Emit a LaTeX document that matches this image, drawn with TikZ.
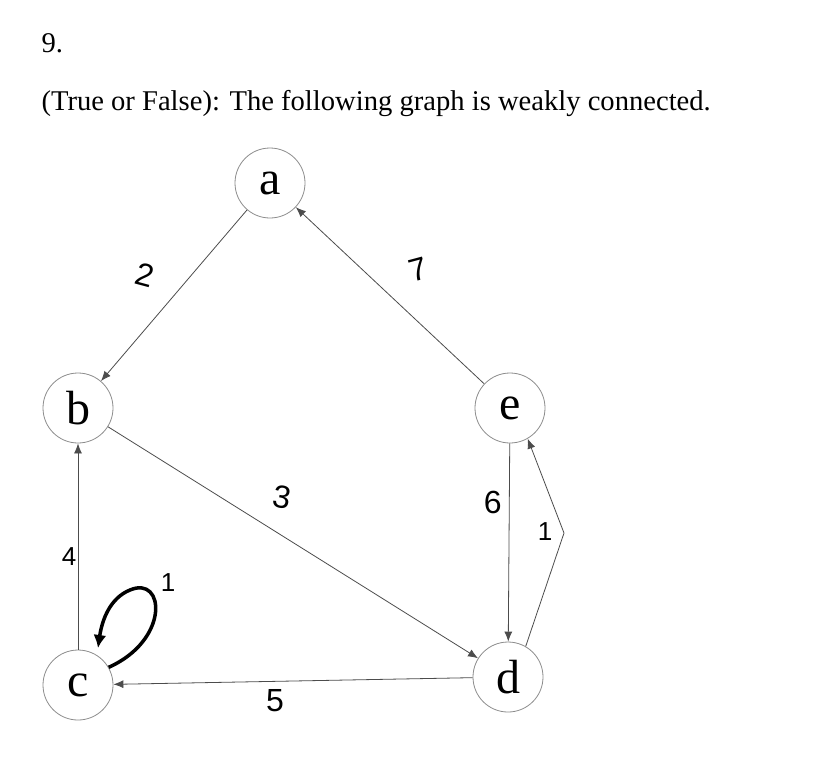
\documentclass[tikz,border=0pt]{standalone}
\usepackage{fontspec}
\usetikzlibrary{arrows.meta}
\setmainfont{Liberation Serif}
\newfontfamily\lab{Liberation Sans}
\begin{document}
\begin{tikzpicture}[x=1pt,y=-1pt,
 vtx/.style={circle,draw=black!45,line width=0.8pt,minimum size=70pt,inner sep=0pt,font=\fontsize{48}{48}\selectfont},
 ed/.style={draw=black!70,line width=0.8pt,-{Latex[length=10pt,width=8pt]}},
 lb/.style={font=\lab\fontsize{32}{32}\selectfont}]
\useasboundingbox (0,0) rectangle (818,764);
\node[anchor=base west,font=\fontsize{28.6}{28.6}\selectfont] (n9) at (38,52) {9.};
\node[anchor=base west,font=\fontsize{28.6}{28.6}\selectfont] (q) at (38,110) {(True or False): The following graph is weakly connected.};
\node[vtx] (a) at (270,183) {a};
\node[vtx] (b) at (78,408) {b};
\node[vtx] (e) at (510,408) {e};
\node[vtx] (c) at (78,685) {c};
\node[vtx] (d) at (508,677) {d};
\draw[ed] (a) -- (b);
\node[lb,rotate=-15] (l2a) at (145,275) {2};
\draw[ed] (e) -- (a);
\node[lb,rotate=15] (l7) at (418,270) {7};
\draw[ed] (b) -- (d);
\node[lb,rotate=-10] (l3) at (282,497) {3};
\draw[ed] (e) -- node[lb,left=4pt,pos=0.3] {6} (d);
\coordinate (m) at (564,533);
\draw[ed] (d.60) -- (m) -- (e.-60);
\node[lb,font=\lab\fontsize{26}{26}\selectfont] (l1) at (545,532) {1};
\draw[ed] (c) -- node[lb,left=-2pt,pos=0.45,font=\lab\fontsize{26}{26}\selectfont] {4} (b);
\draw[ed] (d) -- node[lb,below=4pt,pos=0.55] {5} (c);
\draw[line width=3.5pt,-{Latex[length=13pt,width=13pt]}] (c.30) .. controls (170,640) and (165,575) .. (130,590) .. controls (110,598) and (102,620) .. (98,648);
\node[lb,font=\lab\fontsize{26}{26}\selectfont] (l2) at (168,583) {1};
\end{tikzpicture}
\end{document}
